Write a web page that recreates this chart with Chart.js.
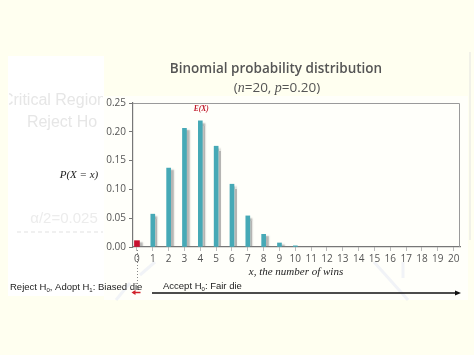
<!DOCTYPE html>
<html><head><meta charset="utf-8">
<script src="https://cdn.jsdelivr.net/npm/chart.js@4.4.1/dist/chart.umd.min.js"></script>
<style>
html,body{margin:0;padding:0;background:#fffff0;}
#wrap{position:relative;width:474px;height:355px;}
canvas{display:block;}
</style></head>
<body><div id="wrap"><canvas id="c" width="474" height="355"></canvas></div>
<script>
// ---- data ----
const wins = [0,1,2,3,4,5,6,7,8,9,10];
const probs = [0.011,0.057,0.137,0.206,0.219,0.175,0.109,0.054,0.022,0.007,0.002];
const criticalX = [0];
const criticalP = [0.011];
const yTicks = [0,0.05,0.10,0.15,0.20,0.25];
const xTickLabels = ['0','1','2','3','4','5','6','7','8','9','10','11','12','13','14','15','16','17','18','19','20'];
const expectedX = 4;

const tealPts = wins.map((w,i)=>({x:w,y:probs[i]})).filter(p=>!criticalX.includes(p.x));
const redPts = criticalX.map((w,i)=>({x:w,y:criticalP[i]}));

const bgPlugin = {
  id:'bg',
  beforeDraw(chart){
    const ctx = chart.ctx;
    ctx.save();
    ctx.fillStyle='#fffff0';
    ctx.fillRect(0,0,474,355);
    ctx.fillStyle='#ffffff';
    ctx.fillRect(8,56,96,240);
    ctx.fillStyle='#fffffa';
    ctx.fillRect(104,96,364,204);
    ctx.beginPath(); ctx.rect(9,56,94,240); ctx.clip();
    ctx.fillStyle='#e6e6e6';
    ctx.font='16px "Liberation Sans", Arial, sans-serif';
    ctx.textAlign='center'; ctx.textBaseline='middle';
    ctx.fillText('Critical Region',54,101);
    ctx.fillText('Reject Ho',62,123);
    ctx.fillStyle='#ececec';
    ctx.font='15px "Liberation Sans", Arial, sans-serif';
    ctx.fillText('\u03B1/2=0.025',64,219);
    ctx.strokeStyle='#ebebeb'; ctx.lineWidth=1.5; ctx.setLineDash([4,3]);
    ctx.beginPath(); ctx.moveTo(17,232); ctx.lineTo(104,232); ctx.stroke();
    ctx.restore();
    ctx.save();
    ctx.strokeStyle='rgba(190,200,235,0.22)'; ctx.lineWidth=3;
    ctx.beginPath(); ctx.moveTo(116,300); ctx.lineTo(130,283); ctx.stroke();
    ctx.beginPath(); ctx.moveTo(140,275); ctx.lineTo(155,262); ctx.stroke();
    ctx.beginPath(); ctx.moveTo(374,262); ctx.lineTo(408,300); ctx.stroke();
    ctx.beginPath(); ctx.moveTo(403,262); ctx.lineTo(403,278); ctx.stroke();
    ctx.strokeStyle='rgba(210,210,215,0.3)'; ctx.lineWidth=2;
    ctx.beginPath(); ctx.moveTo(470,52); ctx.lineTo(470,240); ctx.stroke();
    ctx.restore();
  }
};

const shadowPlugin = {
  id:'barShadow',
  beforeDatasetsDraw(chart){
    const ctx=chart.ctx; ctx.save();
    ctx.shadowColor='rgba(120,120,120,0.55)';
    ctx.shadowOffsetX=3; ctx.shadowOffsetY=2; ctx.shadowBlur=1.5;
  },
  afterDatasetsDraw(chart){ chart.ctx.restore(); }
};

const annoPlugin = {
  id:'anno',
  afterDraw(chart){
    const ctx=chart.ctx, xs=chart.scales.x, ys=chart.scales.y, a=chart.chartArea;
    ctx.save();
    ctx.strokeStyle='#9a9a9a'; ctx.lineWidth=1;
    ctx.beginPath();
    ctx.moveTo(a.left, a.top+0.5); ctx.lineTo(a.right-0.5, a.top+0.5); ctx.lineTo(a.right-0.5, a.bottom);
    ctx.stroke();
    ctx.fillStyle='#555'; ctx.textBaseline='middle'; ctx.textAlign='center';
    ctx.font='600 13.5px "Open Sans", "DejaVu Sans", sans-serif';
    ctx.fillText('Binomial probability distribution', 276, 69);
    const parts=[['(', '13.5px "Open Sans", sans-serif'],['n','italic 14px "Liberation Serif", serif'],['=20, ','13.5px "Open Sans", sans-serif'],['p','italic 14px "Liberation Serif", serif'],['=0.20)','13.5px "Open Sans", sans-serif']];
    let tw=0; parts.forEach(p=>{ctx.font=p[1]; tw+=ctx.measureText(p[0]).width;});
    let x0=277-tw/2; ctx.textAlign='left';
    parts.forEach(p=>{ctx.font=p[1]; ctx.fillText(p[0],x0,88); x0+=ctx.measureText(p[0]).width;});
    ctx.fillStyle='#222'; ctx.textAlign='center';
    ctx.font='italic 11px "Liberation Serif", serif';
    ctx.fillText('P(X = x)', 79, 175);
    ctx.fillText('x, the number of wins', 296, 272);
    ctx.fillStyle='#c0182a';
    ctx.font='italic bold 7.5px "Liberation Serif", serif';
    ctx.fillText('E(X)', xs.getPixelForValue(expectedX)+1, ys.getPixelForValue(probs[expectedX])-12);
    const x0p=Math.round(xs.getPixelForValue(criticalX[0]))+0.5;
    ctx.strokeStyle='#888'; ctx.lineWidth=1; ctx.setLineDash([1,2]);
    ctx.beginPath(); ctx.moveTo(x0p, a.bottom+3); ctx.lineTo(x0p, 294); ctx.stroke();
    ctx.setLineDash([]);
    ctx.fillStyle='#d0202a'; ctx.strokeStyle='#d0202a'; ctx.lineWidth=1.5;
    ctx.beginPath(); ctx.moveTo(x0p+3,292.5); ctx.lineTo(x0p-4,292.5); ctx.stroke();
    ctx.beginPath(); ctx.moveTo(x0p-6,292.5); ctx.lineTo(x0p-2,290); ctx.lineTo(x0p-2,295); ctx.closePath(); ctx.fill();
    ctx.strokeStyle='#111'; ctx.fillStyle='#111'; ctx.lineWidth=1.5;
    ctx.beginPath(); ctx.moveTo(152,293); ctx.lineTo(456,293); ctx.stroke();
    ctx.beginPath(); ctx.moveTo(461,293); ctx.lineTo(455,290.5); ctx.lineTo(455,295.5); ctx.closePath(); ctx.fill();
    function rich(segs,x,y){
      ctx.textAlign='left'; ctx.fillStyle='#222';
      segs.forEach(s=>{
        const sub=s[1];
        ctx.font=(sub?'6px':'9.5px')+' "Liberation Sans", Arial, sans-serif';
        ctx.fillText(s[0],x,y+(sub?3:0));
        x+=ctx.measureText(s[0]).width;
      });
    }
    ctx.textBaseline='middle';
    rich([['Reject H'],['0',1],[', Adopt H'],['1',1],[': Biased die']],10,287);
    rich([['Accept H'],['0',1],[': Fair die']],163,286);
    ctx.restore();
  }
};

new Chart(document.getElementById('c'),{
  type:'bar',
  data:{datasets:[
    {data:redPts, backgroundColor:'#c8102e', barThickness:5},
    {data:tealPts, backgroundColor:'#46a9b6', barThickness:4}
  ]},
  options:{
    responsive:false, animation:false, devicePixelRatio:1,
    layout:{padding:{left:100,top:103,right:14,bottom:88}},
    plugins:{legend:{display:false},tooltip:{enabled:false},title:{display:false}},
    datasets:{bar:{grouped:false}},
    scales:{
      x:{type:'linear', min:-0.25, max:20.4, offset:false,
        afterBuildTicks(s){ s.ticks = xTickLabels.map((t,i)=>({value:i})); },
        afterFit(s){ s.height=20; },
        ticks:{color:'#555', font:{size:10, family:'"Open Sans", "DejaVu Sans", sans-serif'}, padding:2, maxRotation:0, autoSkip:false,
          callback:(v,i)=>xTickLabels[i]},
        grid:{drawOnChartArea:false, drawTicks:true, tickLength:4, color:'#bbb', offset:false},
        border:{display:true, color:'#777', width:1.2}
      },
      y:{min:0, max:0.25,
        afterBuildTicks(s){ s.ticks = yTicks.map(v=>({value:v})); },
        afterFit(s){ s.width=33; },
        ticks:{color:'#555', font:{size:10, family:'"Open Sans", "DejaVu Sans", sans-serif'}, padding:3,
          callback:v=>Number(v).toFixed(2)},
        grid:{drawOnChartArea:false, drawTicks:true, tickLength:4, color:'#777'},
        border:{display:true, color:'#777', width:1.2}
      }
    }
  },
  plugins:[bgPlugin, shadowPlugin, annoPlugin]
});
</script></body></html>
